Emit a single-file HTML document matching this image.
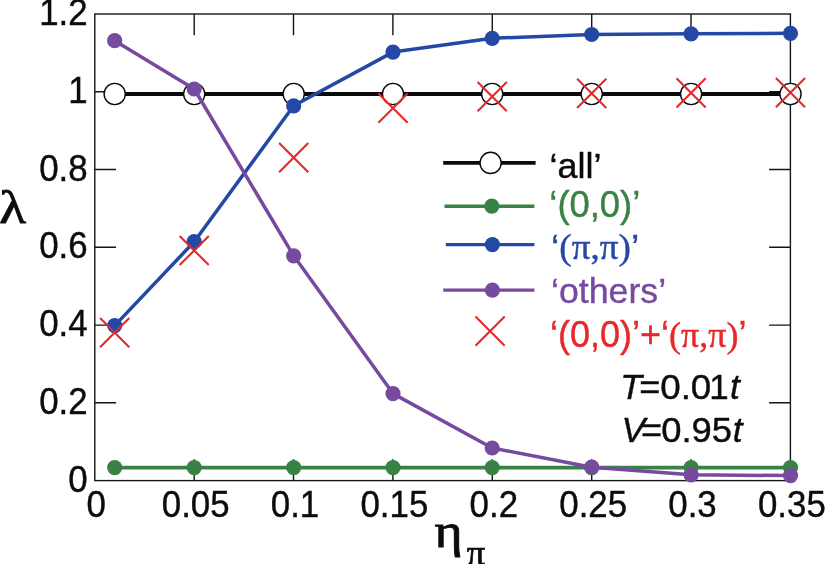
<!DOCTYPE html>
<html><head><meta charset="utf-8"><title>chart</title>
<style>
html,body{margin:0;padding:0;background:#fff;overflow:hidden;}
svg{display:block;}
text{font-family:"Liberation Sans",sans-serif;}
.s{font-family:"Liberation Serif",serif;}
.i{font-style:italic;}
</style></head><body>
<svg width="825" height="564" viewBox="0 0 825 564">
<rect width="825" height="564" fill="#fff"/>

<rect x="94.8" y="14.0" width="695.6" height="466.6" fill="none" stroke="#141414" stroke-width="1.4"/>
<path d="M194.2 480.6 v-21.3 M194.2 14.0 v21.3" stroke="#141414" stroke-width="1.4" fill="none"/>
<path d="M293.5 480.6 v-21.3 M293.5 14.0 v21.3" stroke="#141414" stroke-width="1.4" fill="none"/>
<path d="M392.9 480.6 v-21.3 M392.9 14.0 v21.3" stroke="#141414" stroke-width="1.4" fill="none"/>
<path d="M492.3 480.6 v-21.3 M492.3 14.0 v21.3" stroke="#141414" stroke-width="1.4" fill="none"/>
<path d="M591.7 480.6 v-21.3 M591.7 14.0 v21.3" stroke="#141414" stroke-width="1.4" fill="none"/>
<path d="M691.0 480.6 v-21.3 M691.0 14.0 v21.3" stroke="#141414" stroke-width="1.4" fill="none"/>
<path d="M94.8 402.8 h21.3 M790.4 402.8 h-21.3" stroke="#141414" stroke-width="1.4" fill="none"/>
<path d="M94.8 325.1 h21.3 M790.4 325.1 h-21.3" stroke="#141414" stroke-width="1.4" fill="none"/>
<path d="M94.8 247.3 h21.3 M790.4 247.3 h-21.3" stroke="#141414" stroke-width="1.4" fill="none"/>
<path d="M94.8 169.5 h21.3 M790.4 169.5 h-21.3" stroke="#141414" stroke-width="1.4" fill="none"/>
<path d="M94.8 91.8 h21.3 M790.4 91.8 h-21.3" stroke="#141414" stroke-width="1.4" fill="none"/>
<text transform="translate(96.3 517.4) scale(0.955 1)" font-size="36.5" text-anchor="middle" fill="#0c0c0c" stroke="#0c0c0c" stroke-width="0.4">0</text>
<text transform="translate(195.7 517.4) scale(0.955 1)" font-size="36.5" text-anchor="middle" fill="#0c0c0c" stroke="#0c0c0c" stroke-width="0.4">0.05</text>
<text transform="translate(295.0 517.4) scale(0.955 1)" font-size="36.5" text-anchor="middle" fill="#0c0c0c" stroke="#0c0c0c" stroke-width="0.4">0.1</text>
<text transform="translate(394.4 517.4) scale(0.955 1)" font-size="36.5" text-anchor="middle" fill="#0c0c0c" stroke="#0c0c0c" stroke-width="0.4">0.15</text>
<text transform="translate(493.8 517.4) scale(0.955 1)" font-size="36.5" text-anchor="middle" fill="#0c0c0c" stroke="#0c0c0c" stroke-width="0.4">0.2</text>
<text transform="translate(593.2 517.4) scale(0.955 1)" font-size="36.5" text-anchor="middle" fill="#0c0c0c" stroke="#0c0c0c" stroke-width="0.4">0.25</text>
<text transform="translate(692.5 517.4) scale(0.955 1)" font-size="36.5" text-anchor="middle" fill="#0c0c0c" stroke="#0c0c0c" stroke-width="0.4">0.3</text>
<text transform="translate(791.9 517.4) scale(0.955 1)" font-size="36.5" text-anchor="middle" fill="#0c0c0c" stroke="#0c0c0c" stroke-width="0.4">0.35</text>
<text transform="translate(87.6 491.6) scale(0.955 1)" font-size="36.5" text-anchor="end" fill="#0c0c0c" stroke="#0c0c0c" stroke-width="0.4">0</text>
<text transform="translate(87.6 413.8) scale(0.955 1)" font-size="36.5" text-anchor="end" fill="#0c0c0c" stroke="#0c0c0c" stroke-width="0.4">0.2</text>
<text transform="translate(87.6 336.1) scale(0.955 1)" font-size="36.5" text-anchor="end" fill="#0c0c0c" stroke="#0c0c0c" stroke-width="0.4">0.4</text>
<text transform="translate(87.6 258.3) scale(0.955 1)" font-size="36.5" text-anchor="end" fill="#0c0c0c" stroke="#0c0c0c" stroke-width="0.4">0.6</text>
<text transform="translate(87.6 180.5) scale(0.955 1)" font-size="36.5" text-anchor="end" fill="#0c0c0c" stroke="#0c0c0c" stroke-width="0.4">0.8</text>
<text transform="translate(87.6 102.8) scale(0.955 1)" font-size="36.5" text-anchor="end" fill="#0c0c0c" stroke="#0c0c0c" stroke-width="0.4">1</text>
<text transform="translate(87.6 25.0) scale(0.955 1)" font-size="36.5" text-anchor="end" fill="#0c0c0c" stroke="#0c0c0c" stroke-width="0.4">1.2</text>
<polyline points="114.7,94.0 194.2,94.0 293.7,94.0 393.0,94.0 492.2,94.0 591.7,94.0 691.1,94.0 790.5,94.0" fill="none" stroke="#0a0a0a" stroke-width="3.9" stroke-linejoin="round"/>
<circle cx="114.7" cy="94.0" r="10.6" fill="#fff" stroke="#0a0a0a" stroke-width="1.4"/>
<circle cx="194.2" cy="94.0" r="10.6" fill="#fff" stroke="#0a0a0a" stroke-width="1.4"/>
<circle cx="293.7" cy="94.0" r="10.6" fill="#fff" stroke="#0a0a0a" stroke-width="1.4"/>
<circle cx="393.0" cy="94.0" r="10.6" fill="#fff" stroke="#0a0a0a" stroke-width="1.4"/>
<circle cx="492.2" cy="94.0" r="10.6" fill="#fff" stroke="#0a0a0a" stroke-width="1.4"/>
<circle cx="591.7" cy="94.0" r="10.6" fill="#fff" stroke="#0a0a0a" stroke-width="1.4"/>
<circle cx="691.1" cy="94.0" r="10.6" fill="#fff" stroke="#0a0a0a" stroke-width="1.4"/>
<circle cx="790.5" cy="94.0" r="10.6" fill="#fff" stroke="#0a0a0a" stroke-width="1.4"/>
<polyline points="114.7,467.6 194.2,467.6 293.7,467.6 393.0,467.6 492.2,467.6 591.7,467.6 691.1,467.6 790.5,467.6" fill="none" stroke="#388246" stroke-width="3.6" stroke-linejoin="round"/>
<circle cx="114.7" cy="467.6" r="7.6" fill="#388246"/>
<circle cx="194.2" cy="467.6" r="7.6" fill="#388246"/>
<circle cx="293.7" cy="467.6" r="7.6" fill="#388246"/>
<circle cx="393.0" cy="467.6" r="7.6" fill="#388246"/>
<circle cx="492.2" cy="467.6" r="7.6" fill="#388246"/>
<circle cx="591.7" cy="467.6" r="7.6" fill="#388246"/>
<circle cx="691.1" cy="467.6" r="7.6" fill="#388246"/>
<circle cx="790.5" cy="467.6" r="7.6" fill="#388246"/>
<polyline points="114.7,325.6 194.2,241.7 293.7,105.8 393.0,52.1 492.2,38.3 591.7,34.5 691.1,33.8 790.5,33.3" fill="none" stroke="#2349a5" stroke-width="3.5" stroke-linejoin="round"/>
<circle cx="114.7" cy="325.6" r="7.6" fill="#2349a5"/>
<circle cx="194.2" cy="241.7" r="7.6" fill="#2349a5"/>
<circle cx="293.7" cy="105.8" r="7.6" fill="#2349a5"/>
<circle cx="393.0" cy="52.1" r="7.6" fill="#2349a5"/>
<circle cx="492.2" cy="38.3" r="7.6" fill="#2349a5"/>
<circle cx="591.7" cy="34.5" r="7.6" fill="#2349a5"/>
<circle cx="691.1" cy="33.8" r="7.6" fill="#2349a5"/>
<circle cx="790.5" cy="33.3" r="7.6" fill="#2349a5"/>
<polyline points="114.7,40.7 194.2,89.0 293.7,255.8 393.0,393.6 492.2,448.0 591.7,467.2 691.1,474.8 790.5,475.6" fill="none" stroke="#764a9f" stroke-width="3.5" stroke-linejoin="round"/>
<circle cx="114.7" cy="40.7" r="7.6" fill="#764a9f"/>
<circle cx="194.2" cy="89.0" r="7.6" fill="#764a9f"/>
<circle cx="293.7" cy="255.8" r="7.6" fill="#764a9f"/>
<circle cx="393.0" cy="393.6" r="7.6" fill="#764a9f"/>
<circle cx="492.2" cy="448.0" r="7.6" fill="#764a9f"/>
<circle cx="591.7" cy="467.2" r="7.6" fill="#764a9f"/>
<circle cx="691.1" cy="474.8" r="7.6" fill="#764a9f"/>
<circle cx="790.5" cy="475.6" r="7.6" fill="#764a9f"/>
<path d="M100.1 318.1 L129.3 347.3 M100.1 347.3 L129.3 318.1" stroke="#e8272a" stroke-width="2.1" fill="none"/>
<path d="M179.6 235.9 L208.8 265.1 M179.6 265.1 L208.8 235.9" stroke="#e8272a" stroke-width="2.1" fill="none"/>
<path d="M279.1 143.1 L308.3 172.3 M279.1 172.3 L308.3 143.1" stroke="#e8272a" stroke-width="2.1" fill="none"/>
<path d="M378.4 93.5 L407.6 122.7 M378.4 122.7 L407.6 93.5" stroke="#e8272a" stroke-width="2.1" fill="none"/>
<path d="M477.6 82.0 L506.8 111.2 M477.6 111.2 L506.8 82.0" stroke="#e8272a" stroke-width="2.1" fill="none"/>
<path d="M577.1 78.8 L606.3 108.0 M577.1 108.0 L606.3 78.8" stroke="#e8272a" stroke-width="2.1" fill="none"/>
<path d="M676.5 78.3 L705.7 107.5 M676.5 107.5 L705.7 78.3" stroke="#e8272a" stroke-width="2.1" fill="none"/>
<path d="M775.9 78.1 L805.1 107.3 M775.9 107.3 L805.1 78.1" stroke="#e8272a" stroke-width="2.1" fill="none"/>
<path d="M443.2 162.9 H535.6" stroke="#0a0a0a" stroke-width="3.8"/><circle cx="490.6" cy="162.9" r="10.6" fill="#fff" stroke="#0a0a0a" stroke-width="1.4"/>
<path d="M444.5 206.2 H534.4" stroke="#388246" stroke-width="3.5"/><circle cx="491.8" cy="206.2" r="7.6" fill="#388246"/>
<path d="M445.8 244.6 H534.4" stroke="#2349a5" stroke-width="3.4"/><circle cx="492.4" cy="244.6" r="7.6" fill="#2349a5"/>
<path d="M443.2 290.1 H534.4" stroke="#764a9f" stroke-width="3.4"/><circle cx="492.4" cy="290.2" r="7.6" fill="#764a9f"/>
<path d="M475.5 316.6 L504.7 345.8 M475.5 345.8 L504.7 316.6" stroke="#e8272a" stroke-width="2.1" fill="none"/>
<text transform="translate(549.5 178.3) scale(1.05 1)" font-size="34.2" text-anchor="start" fill="#0a0a0a" stroke="#0a0a0a" stroke-width="0.4">‘all’</text>
<text transform="translate(549.3 217.4) scale(1.0 1)" font-size="36.4" text-anchor="start" fill="#388246" stroke="#388246" stroke-width="0.4">‘(0,0)’</text>
<text transform="translate(551.0 258.9) scale(1.035 1)" font-size="36" text-anchor="start" fill="#2349a5" stroke="#2349a5" stroke-width="0.4">‘<tspan class="s">(π,π)</tspan>’</text>
<text transform="translate(551.0 303.1) scale(1.02 1)" font-size="35" text-anchor="start" fill="#764a9f" stroke="#764a9f" stroke-width="0.4">‘others’</text>
<text transform="translate(550.0 347.0) scale(1.0 1)" font-size="36" text-anchor="start" fill="#e8272a" stroke="#e8272a" stroke-width="0.4">‘(0,0)’+‘<tspan class="s">(π,π)</tspan>’</text>
<text transform="translate(620.3 398.5) scale(1.0 1)" font-size="35.5" text-anchor="start" fill="#0c0c0c" stroke="#0c0c0c" stroke-width="0.4" class="i">T</text>
<text transform="translate(639.3 398.5) scale(1.03 1)" font-size="35" text-anchor="start" fill="#0c0c0c" stroke="#0c0c0c" stroke-width="0.4">=</text>
<text transform="translate(660.2 398.5) scale(1.05 1)" font-size="35" text-anchor="start" fill="#0c0c0c" stroke="#0c0c0c" stroke-width="0.4">0.0</text>
<text transform="translate(709.3 398.5) scale(1.0 1)" font-size="35" text-anchor="start" fill="#0c0c0c" stroke="#0c0c0c" stroke-width="0.4">1</text>
<text transform="translate(730.0 398.5) scale(1.0 1)" font-size="35.5" text-anchor="start" fill="#0c0c0c" stroke="#0c0c0c" stroke-width="0.4" class="i">t</text>
<text transform="translate(621.5 441.8) scale(1.0 1)" font-size="35.5" text-anchor="start" fill="#0c0c0c" stroke="#0c0c0c" stroke-width="0.4" class="i">V</text>
<text transform="translate(641.0 441.8) scale(1.03 1)" font-size="35" text-anchor="start" fill="#0c0c0c" stroke="#0c0c0c" stroke-width="0.4">=</text>
<text transform="translate(661.2 441.8) scale(1.04 1)" font-size="35" text-anchor="start" fill="#0c0c0c" stroke="#0c0c0c" stroke-width="0.4">0.95</text>
<text transform="translate(732.8 441.8) scale(1.0 1)" font-size="35.5" text-anchor="start" fill="#0c0c0c" stroke="#0c0c0c" stroke-width="0.4" class="i">t</text>
<text transform="translate(-0.8 222.5) scale(1.18 1)" font-size="46.8" text-anchor="start" fill="#0c0c0c" stroke="#0c0c0c" stroke-width="0.9" class="s">λ</text>
<text transform="translate(434.6 546.5) scale(1.12 1)" font-size="48" text-anchor="start" fill="#0c0c0c" stroke="#0c0c0c" stroke-width="0.9" class="s">η</text>
<text transform="translate(466.8 565.0) scale(1.03 1)" font-size="35.5" text-anchor="start" fill="#0c0c0c" stroke="#0c0c0c" stroke-width="0.7" class="s">π</text>
</svg></body></html>
